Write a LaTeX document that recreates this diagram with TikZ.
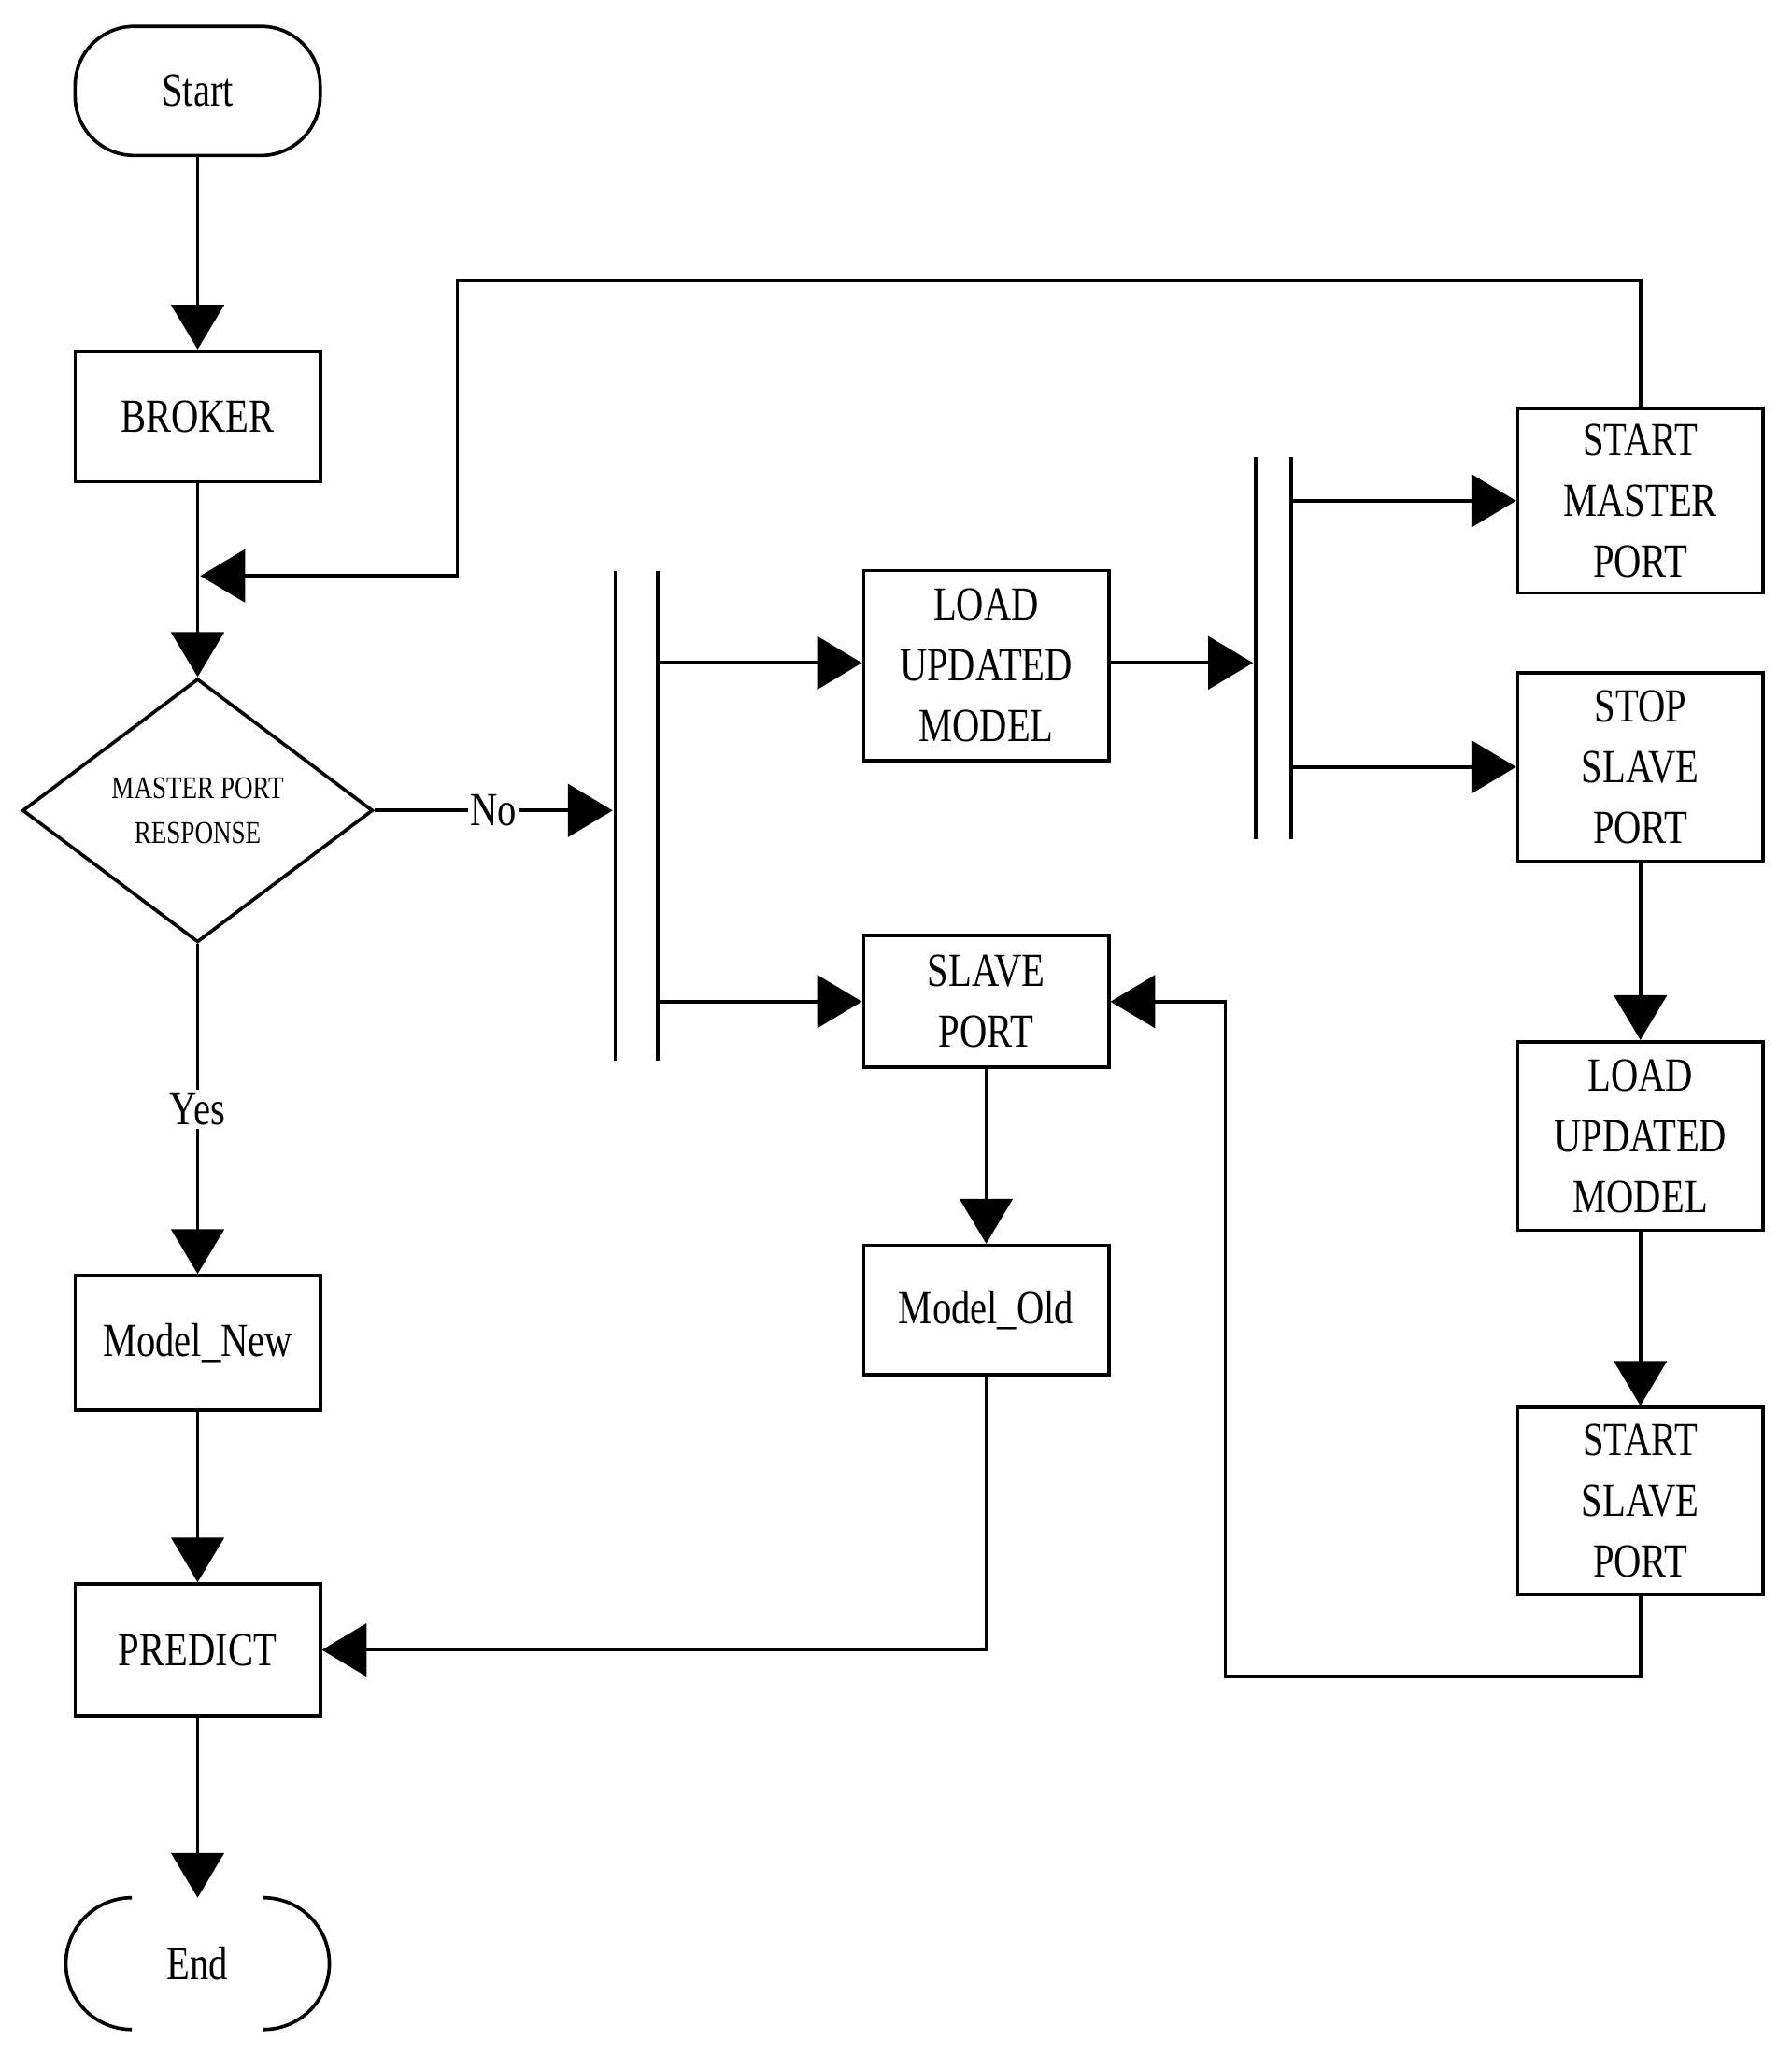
\documentclass[tikz,border=0pt]{standalone}
\usepackage{fontspec}
\setmainfont{Liberation Serif}[FakeStretch=0.8]
\usetikzlibrary{arrows.meta,shapes.geometric}
\begin{document}
\begin{tikzpicture}[x=1pt,y=-1pt,
  every path/.style={line width=2.6pt},
  arr/.style={-{Triangle[length=34pt,width=40pt]}},
  box/.style={draw,line width=2.6pt,minimum width=186pt,align=center,font=\fontsize{36}{46}\selectfont,inner sep=0pt},
  bar/.style={line width=2.6pt}]
\useasboundingbox (0,0) rectangle (1360,1570);
\node[box,minimum height=98pt,rounded corners=45pt] (start) at (150,69) {Start};
\node[box,minimum height=99pt] (broker) at (150,316) {BROKER};
\node[draw,diamond,aspect=1.33,minimum width=266pt,minimum height=200pt,inner sep=0pt,align=center,font=\fontsize{24}{34}\selectfont] (dia) at (150,615) {MASTER PORT\\RESPONSE};
\node[box,minimum height=144pt] (load1) at (748.5,505) {LOAD\\UPDATED\\MODEL};
\node[box,minimum height=100pt] (slave) at (748.5,760) {SLAVE\\PORT};
\node[box,minimum height=98pt] (mold) at (748.5,994) {Model\_Old};
\node[box,minimum height=140pt] (smp) at (1245,380) {START\\MASTER\\PORT};
\node[box,minimum height=143pt] (ssp) at (1245,582) {STOP\\SLAVE\\PORT};
\node[box,minimum height=143pt] (load2) at (1245,862) {LOAD\\UPDATED\\MODEL};
\node[box,minimum height=142pt] (stsp) at (1245,1139) {START\\SLAVE\\PORT};
\node[box,minimum height=102pt] (mnew) at (150,1019) {Model\_New};
\node[box,minimum height=100pt] (pred) at (150,1252) {PREDICT};
\node[minimum width=186pt,minimum height=100pt,font=\fontsize{36}{46}\selectfont] (end) at (150,1490) {End};
\draw (100,1440) arc[start angle=-90,end angle=-270,radius=50];
\draw (200,1440) arc[start angle=-90,end angle=90,radius=50];
% bars
\draw[bar] (467,433) -- (467,805);
\draw[bar] (499,433) -- (499,805);
\draw[bar] (953,347) -- (953,637);
\draw[bar] (980,347) -- (980,637);
\coordinate (b1in) at (465,615);
\coordinate (b1a) at (499,503);
\coordinate (b1c) at (499,760);
\coordinate (b2in) at (951,503);
\coordinate (b2a) at (980,380);
\coordinate (b2b) at (980,582);
\coordinate (merge) at (152,437);
\coordinate (endtop) at (150,1440);
% connectors
\draw[arr] (start) -- (broker);
\draw[arr] (broker) -- (dia);
\draw[arr] (smp.north) |- (347,213) |- (merge);
\draw[arr] (dia.east) -- node[fill=white,inner sep=2pt,font=\fontsize{36}{46}\selectfont]{No} (b1in);
\draw[arr] (b1a) -- (load1.west |- b1a);
\draw[arr] (b1c) -- (slave.west |- b1c);
\draw[arr] (load1.east |- b2in) -- (b2in);
\draw[arr] (b2a) -- (smp.west |- b2a);
\draw[arr] (b2b) -- (ssp.west |- b2b);
\draw[arr] (ssp) -- (load2);
\draw[arr] (load2) -- (stsp);
\draw[arr] (stsp.south) |- (930,1272) |- (slave.east);
\draw[arr] (slave) -- (mold);
\draw[arr] (mold.south) |- (pred.east);
\draw[arr] (dia.south) -- node[fill=white,inner sep=3pt,font=\fontsize{36}{46}\selectfont]{Yes} (mnew);
\draw[arr] (mnew) -- (pred);
\draw[arr] (pred) -- (endtop);
\end{tikzpicture}
\end{document}
